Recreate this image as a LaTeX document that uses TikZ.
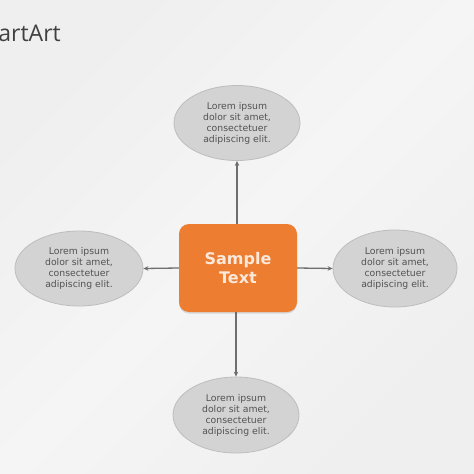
\documentclass[tikz,border=0pt]{standalone}
\usepackage{fontspec}
\setmainfont{DejaVu Sans}
\newfontfamily\titlefont{Open Sans}
\usetikzlibrary{shapes.geometric,arrows.meta,shadows}
\definecolor{bg}{HTML}{EFEFEF}
\definecolor{bgl}{HTML}{F5F5F5}
\definecolor{ellfill}{HTML}{D3D3D3}
\definecolor{elldraw}{HTML}{BDBDBD}
\definecolor{elltext}{HTML}{525252}
\definecolor{orangebox}{HTML}{ED7D31}
\definecolor{boxtext}{HTML}{FBE9DC}
\definecolor{linecol}{HTML}{6E6E6E}
\definecolor{titlecol}{HTML}{404040}
\begin{document}
\begin{tikzpicture}[x=1pt,y=-1pt,
  bubble/.style={ellipse, fill=ellfill, draw=elldraw, line width=0.8pt,
    minimum width=126pt, minimum height=75pt, inner sep=0pt,
    text=elltext, align=center, font=\fontsize{9.3}{11}\selectfont},
  centerbox/.style={rectangle, rounded corners=10pt, fill=orangebox,
    minimum width=118pt, minimum height=88pt, text=boxtext, align=center,
    font=\fontsize{16}{19}\selectfont\bfseries,
    drop shadow={shadow xshift=0pt, shadow yshift=-1.5pt, opacity=0.25}},
  link/.style={draw=linecol, line width=1.3pt, -{Stealth[length=5pt,width=4.5pt]}}]
\useasboundingbox (0,0) rectangle (474,474);
\clip (0,0) rectangle (474,474);
\shade[top color=bg, bottom color=bg, middle color=bgl, shading angle=45] (0,0) rectangle (474,474);
\node[anchor=base east, inner sep=0pt, text=titlecol, font=\titlefont\fontsize{23}{27}\selectfont] (title) at (61,41) {SmartArt};
\node[centerbox] (c) at (238,268) {Sample\\Text};
\node[bubble] (t) at (237,123) {Lorem ipsum\\dolor sit amet,\\consectetuer\\adipiscing elit.};
\node[bubble, minimum width=128pt] (l) at (79,268.5) {Lorem ipsum\\dolor sit amet,\\consectetuer\\adipiscing elit.};
\node[bubble, minimum width=124pt, minimum height=77pt] (r) at (395,268.5) {Lorem ipsum\\dolor sit amet,\\consectetuer\\adipiscing elit.};
\node[bubble, minimum height=76pt] (b) at (236,415) {Lorem ipsum\\dolor sit amet,\\consectetuer\\adipiscing elit.};
\draw[link] (c.north -| t.south) -- (t.south);
\draw[link] (c.west) -- (l.east);
\draw[link] (c.east) -- (r.west);
\draw[link] (c.south -| b.north) -- (b.north);
\end{tikzpicture}
\end{document}
